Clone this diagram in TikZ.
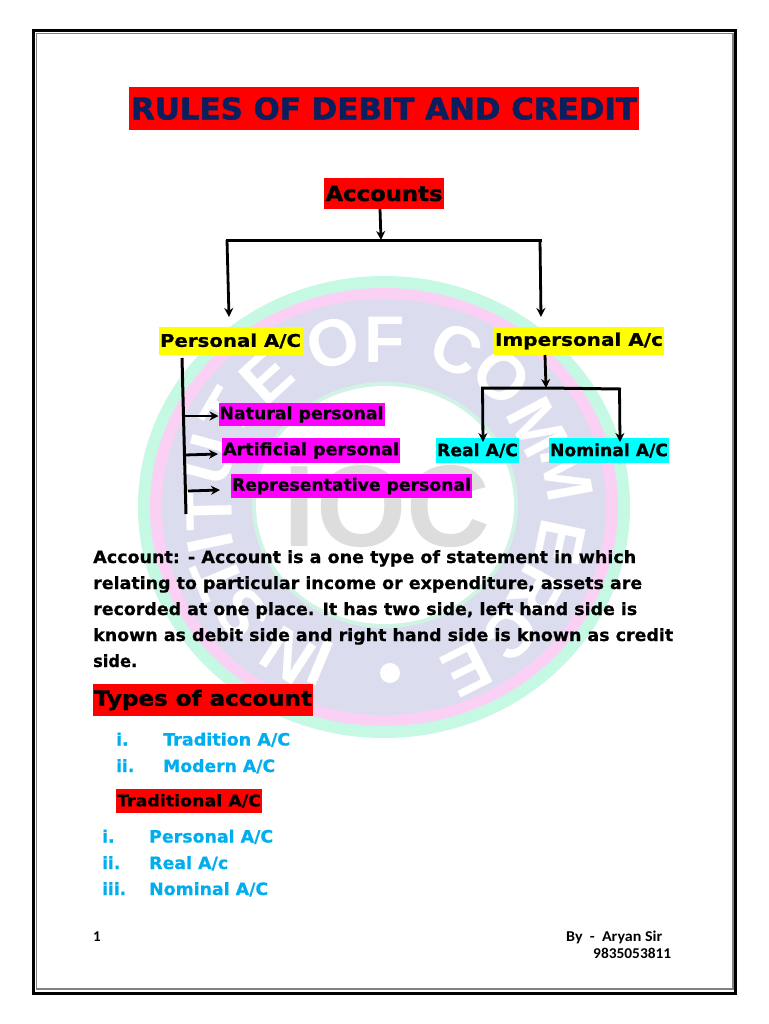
\documentclass[tikz,border=0pt]{standalone}
\usepackage{fontspec}
\usepackage{graphicx}
\usetikzlibrary{arrows.meta}
\setmainfont{DejaVu Sans}
\newfontfamily\vb[FakeBold=0.7]{DejaVu Sans Bold}
\newfontfamily\vh[FakeBold=1.4]{DejaVu Sans Bold}
\newfontfamily\ab[FakeBold=1.8]{DejaVu Sans Bold}
\newfontfamily\wm{Liberation Sans Bold}
\newfontfamily\cb{Carlito Bold}
\definecolor{navy}{HTML}{0B1F5E}
\definecolor{wgreen}{HTML}{C6F9E4}
\definecolor{wring}{HTML}{D0F3E4}
\definecolor{wpink}{HTML}{FBD0F5}
\definecolor{wlav}{HTML}{DBDDEE}
\definecolor{wgrey}{HTML}{DDDDDD}
\definecolor{sky}{HTML}{00AEEF}
\definecolor{fred}{HTML}{FF0000}
\definecolor{fyel}{HTML}{FFFF00}
\definecolor{fmag}{HTML}{FF00FF}
\definecolor{fcya}{HTML}{00FFFF}
\newsavebox\fitbox
\newcommand{\fitw}[2]{\sbox\fitbox{#2}\pgfmathsetmacro\fitscale{#1pt/\wd\fitbox}\scalebox{\fitscale}[1]{\usebox\fitbox}}
\tikzset{
  x=1pt,y=-1pt,
  hl/.style={inner sep=0pt,outer sep=0pt,text=black,anchor=center},
  line/.style={line width=3pt},
  arr/.style={line width=2.8pt,-{Stealth[length=9pt,width=9pt]}},
  body/.style={inner sep=0pt,anchor=base west,text=black,font=\vb\fontsize{17}{20}\selectfont},
  blue/.style={inner sep=0pt,anchor=base west,text=sky,font=\vb\fontsize{17}{20}\selectfont},
  small/.style={inner sep=0pt,anchor=base west,text=black,font=\cb\fontsize{15}{18}\selectfont},
  wml/.style={inner sep=0pt,text=white,font=\wm\fontsize{66}{70}\selectfont},
}
\begin{document}
\begin{tikzpicture}
\useasboundingbox (0,0) rectangle (768,1024);
\fill[white] (0,0) rectangle (768,1024);
% watermark
\fill[wgreen] (384,507) ellipse [x radius=246,y radius=231];
\fill[wpink] (384,507) ellipse [x radius=234,y radius=219];
\fill[wlav] (384,507) ellipse [x radius=222,y radius=208];
\fill[wring] (385,505) ellipse [x radius=133,y radius=123];
\fill[white] (385,505) ellipse [x radius=129,y radius=119];
\foreach \c/\px/\py [count=\i] in {I/320/663,N/288/655,S/242/613,T/218/578,I/210/543,T/209/511,U/210/460,T/227/413,E/267/377,O/333/343,F/385/340,C/457/350,O/502/377,M/537/427,M/567/473,E/560/543,R/537/591,C/511/633,E/467/670}{
  \pgfmathsetmacro\rot{-atan2(\px-385,507-\py)}
  \node[wml,rotate=\rot] (wm\i) at (\px,\py) {\c};
}
\fill[white] (390,673) circle [radius=10];
\node[inner sep=0pt,text=wgrey,font=\wm\fontsize{116}{120}\selectfont] (ioc) at (387,507) {IOC};
% frame
\draw[line width=3pt] (33.5,30.5) rectangle (735.5,993);
\draw[line width=1.2pt,gray] (36.5,33.8) rectangle (733,989);
% title and tree
\node[hl,fill=fred,minimum width=510pt,minimum height=43pt] (title) at (384,108.5) {\color{navy}\fitw{506}{\ab\fontsize{30}{36}\selectfont RULES OF DEBIT AND CREDIT}};
\node[hl,fill=fred,minimum width=120pt,minimum height=31pt] (acc) at (384,193.5) {\fitw{117}{\vh\fontsize{21}{26}\selectfont Accounts}};
\node[hl,fill=fyel,minimum width=144pt,minimum height=28pt] (per) at (230.5,341) {\raisebox{-2pt}{\fitw{141}{\vb\fontsize{17.5}{20}\selectfont Personal A/C}}};
\node[hl,fill=fyel,minimum width=170pt,minimum height=28pt] (imp) at (579,341) {\raisebox{-3pt}{\fitw{168}{\vb\fontsize{17.5}{20}\selectfont Impersonal A/c}}};
\node[hl,fill=fmag,minimum width=166pt,minimum height=23pt] (nat) at (301.5,414.5) {\raisebox{-2.5pt}{\fitw{164}{\vb\fontsize{17}{20}\selectfont Natural personal}}};
\node[hl,fill=fmag,minimum width=178pt,minimum height=25pt] (art) at (311,450.5) {\fitw{176}{\vb\fontsize{17}{20}\selectfont Artificial personal}};
\node[hl,fill=fmag,minimum width=241pt,minimum height=24pt] (rep) at (351.5,486) {\fitw{239}{\vb\fontsize{17}{20}\selectfont Representative personal}};
\node[hl,fill=fcya,minimum width=83pt,minimum height=25pt] (real) at (477.5,450.5) {\fitw{81}{\vb\fontsize{17}{20}\selectfont Real A/C}};
\node[hl,fill=fcya,minimum width=120pt,minimum height=25pt] (nom) at (609,450.5) {\fitw{118}{\vb\fontsize{17}{20}\selectfont Nominal A/C}};
\coordinate (lbar) at (227,240);
\coordinate (rbar) at (540,240);
\coordinate (jb) at (381,240);
\coordinate (lbar2) at (482.5,388);
\coordinate (rbar2) at (619.5,389);
\coordinate (jb2) at (546,388);
\coordinate (vt) at (182,358);
\coordinate (vb) at (186,514);
\coordinate (b1) at (184,416);
\coordinate (b2) at (185,455);
\coordinate (b3) at (188,491);
\draw[arr] ([xshift=-4pt]acc.south) -- (jb);
\draw[line,line cap=rect] (lbar) -- (rbar);
\draw[arr] (lbar) -- (229,317);
\draw[arr] (rbar) -- (541,317);
\draw[arr] ([xshift=-34pt]imp.south) -- (jb2);
\draw[line,line cap=rect] (lbar2) -- (jb2) -- (rbar2);
\draw[arr] (lbar2) -- (483,442);
\draw[arr] (rbar2) -- (620,442);
\draw[line] (vt) -- (vb);
\draw[arr] (b1) -- ([yshift=-1.5pt]nat.west);
\draw[arr] (b2) -- ([xshift=-4pt,yshift=-3.5pt]art.west);
\draw[arr] (b3) -- ([xshift=-11pt,yshift=-4pt]rep.west);
% body
\node[body] (l1) at (93,563) {\fitw{543}{Account: - Account is a one type of statement in which}};
\node[body] (l2) at (93,589) {\fitw{549}{relating to particular income or expenditure, assets are}};
\node[body] (l3) at (93,615) {\fitw{544}{recorded at one place. It has two side, left hand side is}};
\node[body] (l4) at (93,641) {\fitw{580}{known as debit side and right hand side is known as credit}};
\node[body] (l5) at (93,667) {\fitw{44}{side.}};
\node[hl,fill=fred,minimum width=220pt,minimum height=32pt] (types) at (203,700) {\raisebox{-5pt}{\fitw{218}{\vh\fontsize{21}{26}\selectfont Types of account}}};
\node[blue] (m1) at (116,745.5) {i.};
\node[blue] (t1) at (163,745.5) {\fitw{127}{Tradition A/C}};
\node[blue] (m2) at (116,772) {ii.};
\node[blue] (t2) at (163,772) {\fitw{112}{Modern A/C}};
\node[hl,fill=fred,minimum width=146pt,minimum height=24pt] (trad) at (189,801) {\raisebox{-1pt}{\fitw{144}{\vb\fontsize{16}{20}\selectfont Traditional A/C}}};
\node[blue] (m3) at (102,842.5) {i.};
\node[blue] (t3) at (149,842.5) {\fitw{124}{Personal A/C}};
\node[blue] (m4) at (102,869) {ii.};
\node[blue] (t4) at (149,869) {\fitw{79}{Real A/c}};
\node[blue] (m5) at (102,895) {iii.};
\node[blue] (t5) at (149,895) {\fitw{119}{Nominal A/C}};
\node[small] (pg) at (93,941) {1};
\node[small] (by) at (566,941) {\fitw{96}{By\ \ -\ \ Aryan Sir}};
\node[small] (ph) at (593,958) {\fitw{78}{9835053811}};
\end{tikzpicture}
\end{document}
